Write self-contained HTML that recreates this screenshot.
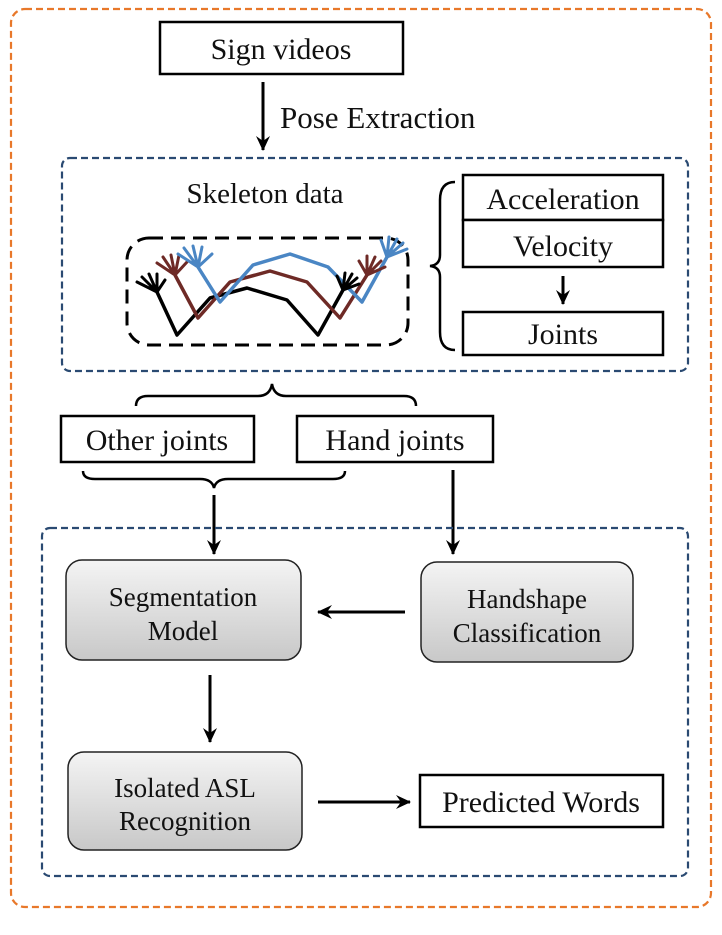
<!DOCTYPE html>
<html><head><meta charset="utf-8"><style>
html,body{margin:0;padding:0;background:#fff;}
svg{display:block;}
text{font-family:"Liberation Serif",serif;fill:#111;}
</style></head><body>
<svg width="722" height="935" viewBox="0 0 722 935" xmlns="http://www.w3.org/2000/svg">
<defs>
<marker id="ah" markerWidth="16" markerHeight="16" refX="14" refY="8" orient="auto" markerUnits="userSpaceOnUse">
<path d="M0,1 L15,8 L0,15 L5,8 Z" fill="#000"/>
</marker>
<linearGradient id="g" x1="0" y1="0" x2="0" y2="1">
<stop offset="0" stop-color="#f4f4f4"/><stop offset="1" stop-color="#c8c8c8"/>
</linearGradient>
</defs>
<rect x="11" y="9" width="700" height="898" rx="14" fill="none" stroke="#e8782a" stroke-width="2.2" stroke-dasharray="7,4"/>
<rect x="160" y="22" width="243" height="52" fill="#fff" stroke="#000" stroke-width="2.5"/>
<text x="281" y="59" font-size="30" text-anchor="middle">Sign videos</text>
<line x1="263" y1="82" x2="263" y2="150" stroke="#000" stroke-width="3" marker-end="url(#ah)"/>
<text x="280" y="128" font-size="31">Pose Extraction</text>

<rect x="62" y="158" width="626" height="213" rx="8" fill="none" stroke="#2a4a72" stroke-width="2.2" stroke-dasharray="7,4"/>
<text x="265" y="203" font-size="29" text-anchor="middle">Skeleton data</text>
<rect x="127" y="238" width="281" height="107" rx="22" fill="none" stroke="#000" stroke-width="3" stroke-dasharray="14,8"/>
<g stroke-width="3.5" fill="none" stroke-linejoin="round">
<polyline stroke="#000" points="157,292 177,335 210,298 247,288 287,300 318,335 343,290"/>
<polyline stroke="#6e2a26" points="175,275 198,318 230,282 270,271 307,282 340,318 367,275"/>
<polyline stroke="#4a86c4" points="198,267 220,302 253,265 290,254 328,267 362,302 387,257"/>
</g>
<g stroke-width="3" stroke-linecap="round">
<g stroke="#000"><path d="M157,292 l-20,-10 M157,292 l-15,-15 M157,292 l-8,-18 M157,292 l0,-18 M157,292 l8,-12"/>
<path d="M343,290 l-6,-14 M343,290 l2,-17 M343,290 l9,-16 M343,290 l14,-12 M343,290 l16,-6"/></g>
<g stroke="#6e2a26"><path d="M175,275 l-18,-12 M175,275 l-12,-18 M175,275 l-4,-20 M175,275 l4,-20 M175,275 l12,-13"/>
<path d="M367,275 l-8,-14 M367,275 l0,-19 M367,275 l8,-18 M367,275 l14,-14 M367,275 l18,-8"/></g>
<g stroke="#4a86c4"><path d="M198,267 l-20,-13 M198,267 l-14,-19 M198,267 l-5,-21 M198,267 l4,-20 M198,267 l14,-13"/>
<path d="M387,257 l-6,-17 M387,257 l2,-20 M387,257 l10,-18 M387,257 l16,-14 M387,257 l20,-8"/></g>
</g>

<path d="M455,182 Q440,182 440,200 L440,255 Q440,265 430,266 Q440,267 440,277 L440,332 Q440,350 455,350" fill="none" stroke="#000" stroke-width="2.5"/>
<rect x="463" y="175" width="200" height="45" fill="#fff" stroke="#000" stroke-width="2.5"/>
<rect x="463" y="220" width="200" height="47" fill="#fff" stroke="#000" stroke-width="2.5"/>
<text x="563" y="209" font-size="30" text-anchor="middle">Acceleration</text>
<text x="563" y="256" font-size="30" text-anchor="middle">Velocity</text>
<line x1="563" y1="276" x2="563" y2="304" stroke="#000" stroke-width="3" marker-end="url(#ah)"/>
<rect x="463" y="312" width="200" height="43" fill="#fff" stroke="#000" stroke-width="2.5"/>
<text x="563" y="344" font-size="30" text-anchor="middle">Joints</text>

<path d="M136,406 Q136,396 148,396 L258,396 Q270,396 272,384 Q274,396 286,396 L404,396 Q416,396 416,406" fill="none" stroke="#000" stroke-width="2.5"/>
<rect x="61" y="416" width="193" height="46" fill="#fff" stroke="#000" stroke-width="2.5"/>
<text x="157" y="450" font-size="30" text-anchor="middle">Other joints</text>
<rect x="297" y="416" width="196" height="46" fill="#fff" stroke="#000" stroke-width="2.5"/>
<text x="395" y="450" font-size="30" text-anchor="middle">Hand joints</text>
<path d="M83,471 Q83,479 95,479 L200,479 Q212,479 214,488 Q216,479 228,479 L333,479 Q345,479 345,471" fill="none" stroke="#000" stroke-width="2.5"/>
<line x1="214" y1="495" x2="214" y2="554" stroke="#000" stroke-width="3" marker-end="url(#ah)"/>
<line x1="453" y1="470" x2="453" y2="554" stroke="#000" stroke-width="3" marker-end="url(#ah)"/>

<rect x="42" y="528" width="646" height="348" rx="8" fill="none" stroke="#2a4a72" stroke-width="2.2" stroke-dasharray="7,4"/>
<rect x="66" y="560" width="235" height="100" rx="16" fill="url(#g)" stroke="#222" stroke-width="1.5"/>
<text x="183" y="606" font-size="27" text-anchor="middle">Segmentation</text>
<text x="183" y="640" font-size="27" text-anchor="middle">Model</text>
<rect x="421" y="562" width="212" height="100" rx="16" fill="url(#g)" stroke="#222" stroke-width="1.5"/>
<text x="527" y="608" font-size="27" text-anchor="middle">Handshape</text>
<text x="527" y="642" font-size="27" text-anchor="middle">Classification</text>
<line x1="405" y1="612" x2="318" y2="612" stroke="#000" stroke-width="3" marker-end="url(#ah)"/>
<line x1="210" y1="675" x2="210" y2="742" stroke="#000" stroke-width="3" marker-end="url(#ah)"/>
<rect x="68" y="752" width="234" height="98" rx="16" fill="url(#g)" stroke="#222" stroke-width="1.5"/>
<text x="185" y="797" font-size="27" text-anchor="middle">Isolated ASL</text>
<text x="185" y="830" font-size="27" text-anchor="middle">Recognition</text>
<line x1="318" y1="802" x2="410" y2="802" stroke="#000" stroke-width="3" marker-end="url(#ah)"/>
<rect x="420" y="775" width="243" height="52" fill="#fff" stroke="#000" stroke-width="2.5"/>
<text x="541" y="812" font-size="30" text-anchor="middle">Predicted Words</text>
</svg>
</body></html>
